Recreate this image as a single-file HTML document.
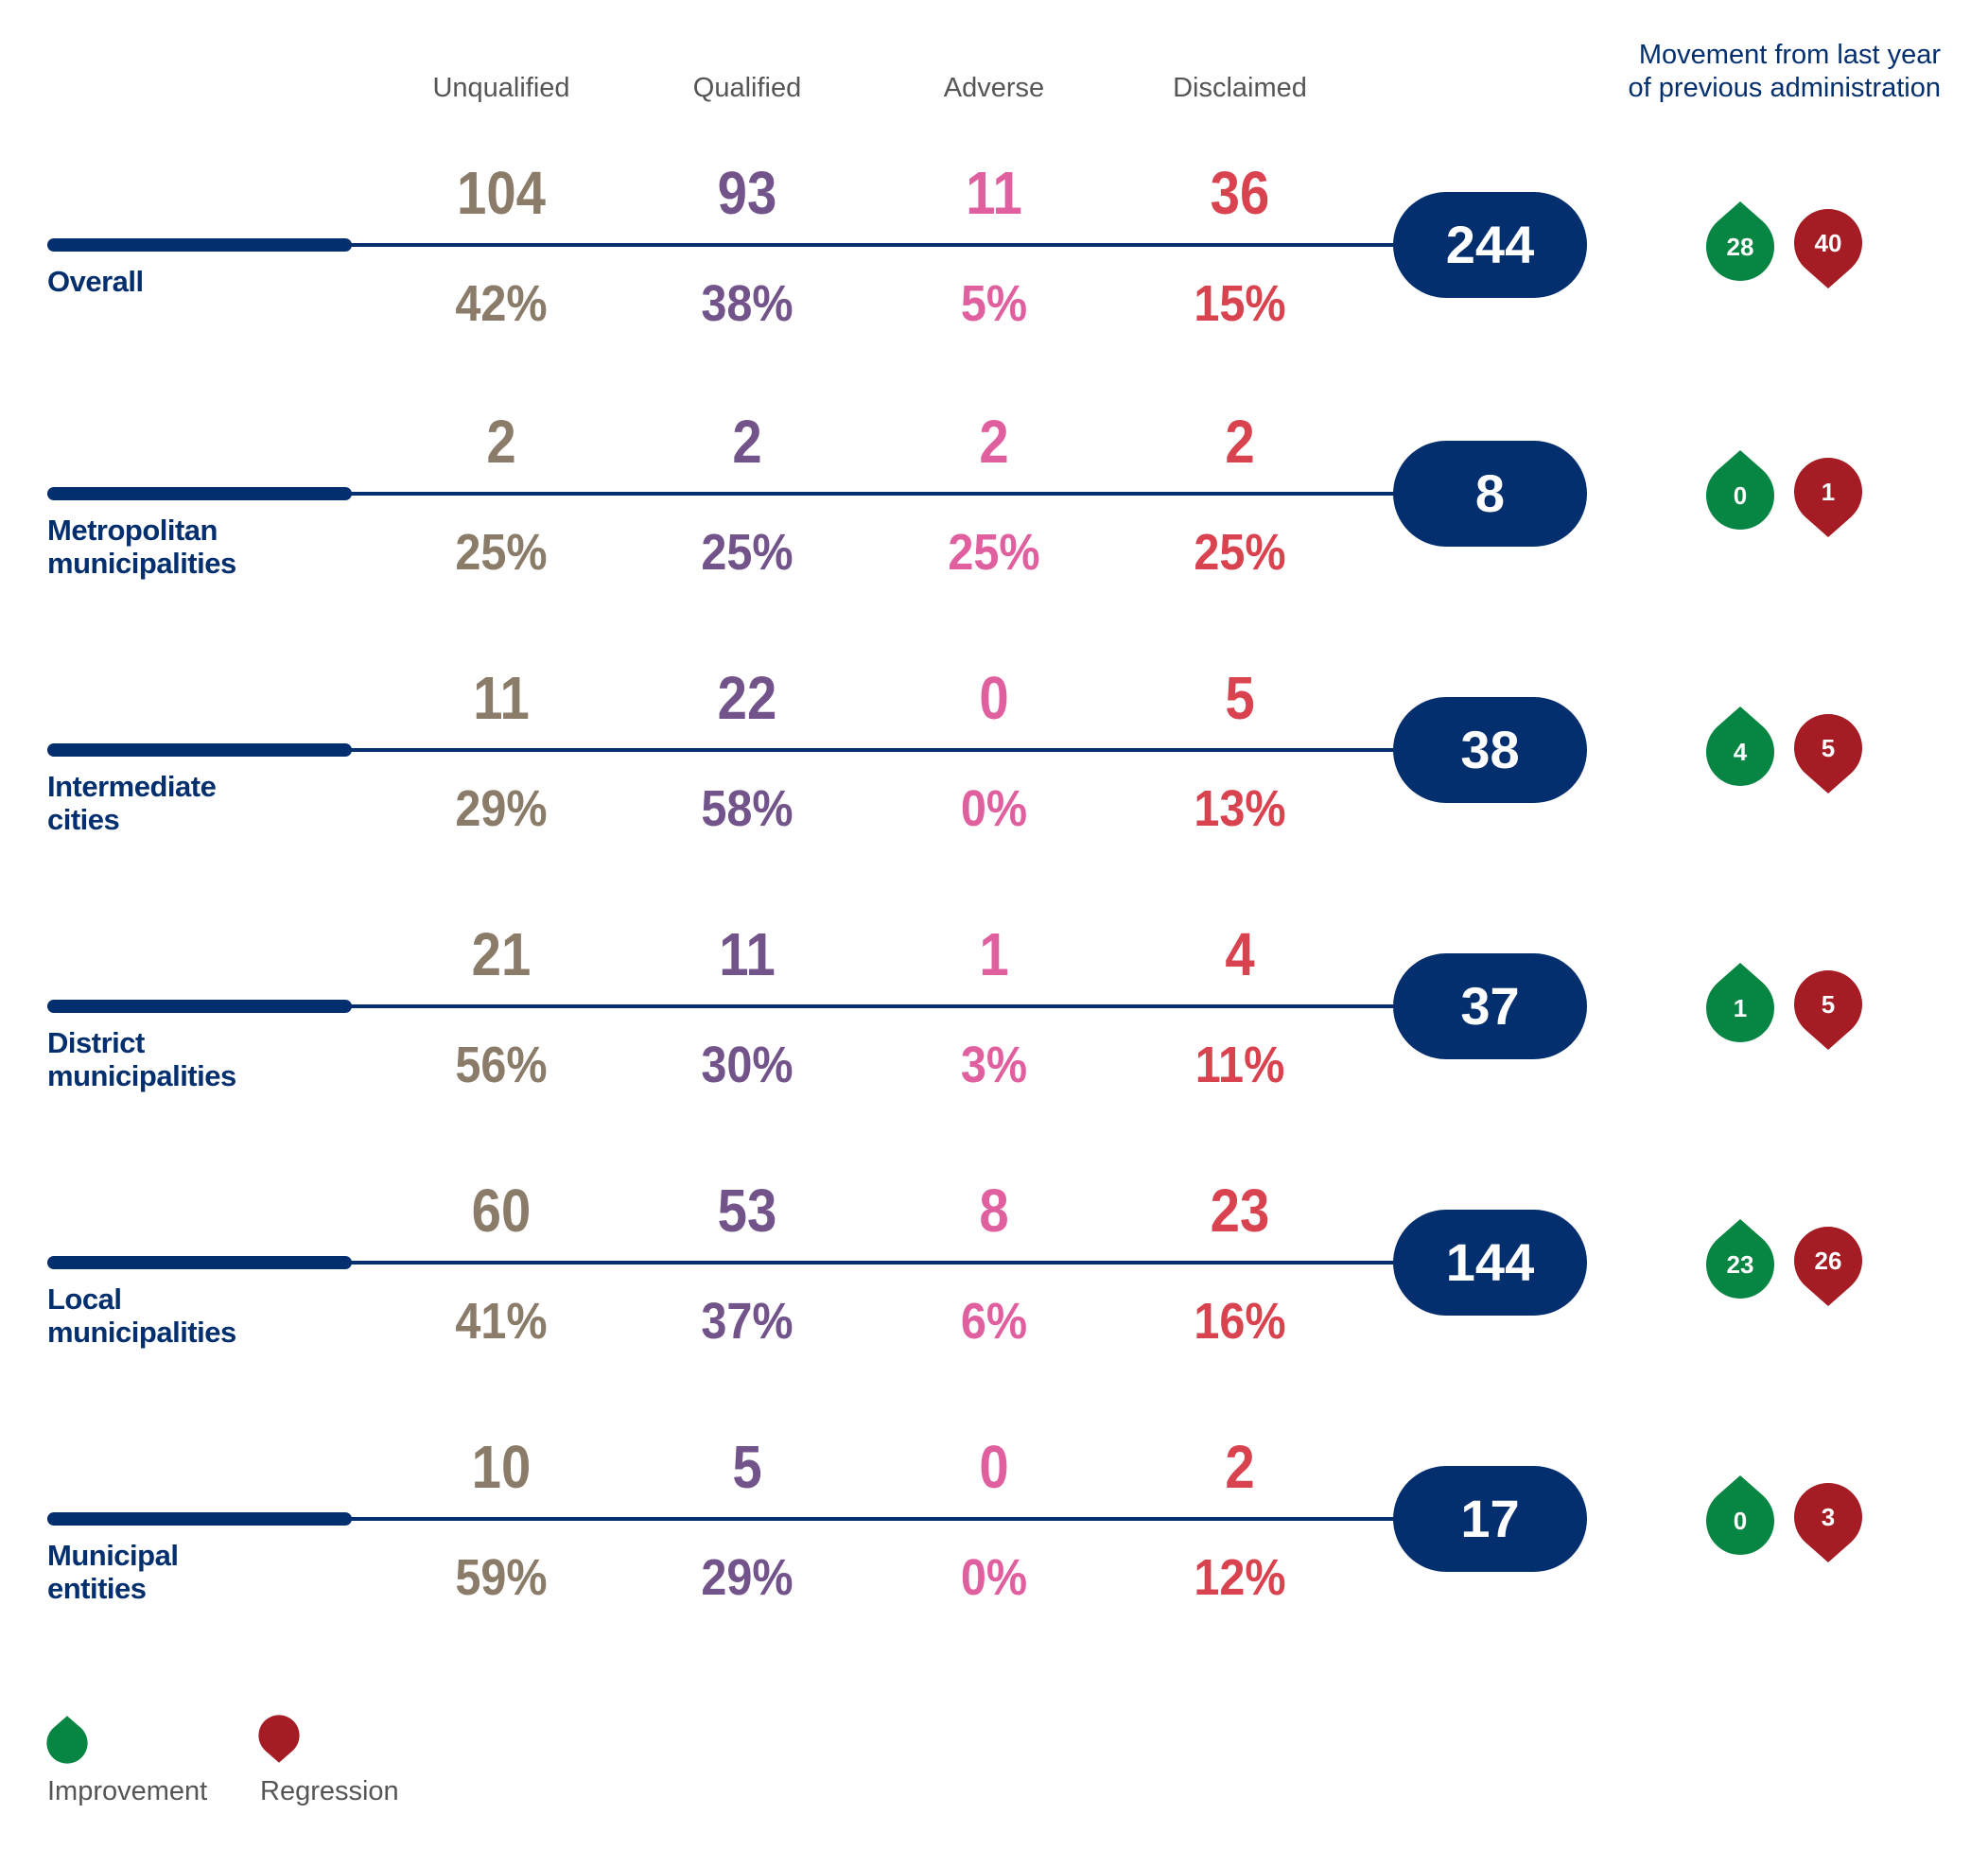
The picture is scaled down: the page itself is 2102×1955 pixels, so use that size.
<!DOCTYPE html>
<html><head><meta charset="utf-8"><style>
body{margin:0;width:2102px;height:1955px;background:#fff;position:relative;overflow:hidden;font-family:"Liberation Sans",sans-serif}
.a{position:absolute}
.h{width:300px;text-align:center;font-size:29px;color:#555;line-height:30px}
.n{width:240px;text-align:center;font-weight:bold;font-size:64px;line-height:64px;transform:scaleX(0.88)}
.p{width:240px;text-align:center;font-weight:bold;font-size:54px;line-height:54px;transform:scaleX(0.9)}
.lab{left:50px;color:#042f6e;font-weight:bold;font-size:31px;line-height:35px;letter-spacing:-0.5px}
.bar{left:50px;width:322px;height:14px;background:#042f6e;border-radius:7px}
.ln{left:368px;width:1108px;height:4px;background:#042f6e}
.pill{left:1473px;width:205px;height:112px;border-radius:56px;background:#042f6e;color:#fff;font-weight:bold;font-size:56px;line-height:112px;text-align:center}
.c1{color:#8b7b69}.c2{color:#72548a}.c3{color:#e0609f}.c4{color:#d9434f}
</style></head><body>
<div class="a h" style="left:380px;top:78px">Unqualified</div>
<div class="a h" style="left:640px;top:78px">Qualified</div>
<div class="a h" style="left:901px;top:78px">Adverse</div>
<div class="a h" style="left:1161px;top:78px">Disclaimed</div>
<div class="a" style="right:50px;top:41px;text-align:right;color:#042f6e;font-size:29px;line-height:35px">Movement from last year<br>of previous administration</div>

<svg class="a" style="left:0;top:0" width="2102" height="1955">
<defs>
<path id="g" d="M0,-48 L23.8,-27 A36,36 0 1 1 -23.8,-27 Z" fill="#078543"/>
<path id="r" d="M0,48 L23.8,27 A36,36 0 1 0 -23.8,27 Z" fill="#a51c24"/>
</defs>
<g font-family="Liberation Sans" font-weight="bold" font-size="26" fill="#fff" text-anchor="middle">
<use href="#g" x="1840" y="261"/><text x="1840" y="270">28</text>
<use href="#r" x="1933" y="257"/><text x="1933" y="266">40</text>
<use href="#g" x="1840" y="524"/><text x="1840" y="533">0</text>
<use href="#r" x="1933" y="520"/><text x="1933" y="529">1</text>
<use href="#g" x="1840" y="795"/><text x="1840" y="804">4</text>
<use href="#r" x="1933" y="791"/><text x="1933" y="800">5</text>
<use href="#g" x="1840" y="1066"/><text x="1840" y="1075">1</text>
<use href="#r" x="1933" y="1062"/><text x="1933" y="1071">5</text>
<use href="#g" x="1840" y="1337"/><text x="1840" y="1346">23</text>
<use href="#r" x="1933" y="1333"/><text x="1933" y="1342">26</text>
<use href="#g" x="1840" y="1608"/><text x="1840" y="1617">0</text>
<use href="#r" x="1933" y="1604"/><text x="1933" y="1613">3</text>
</g>
<g transform="translate(71,1843) scale(0.6)"><use href="#g"/></g>
<g transform="translate(295,1835) scale(0.6)"><use href="#r"/></g>
</svg>
<div class="a" style="left:50px;top:1878px;font-size:29px;color:#555">Improvement</div>
<div class="a" style="left:275px;top:1878px;font-size:29px;color:#555">Regression</div>

<div id="rows"></div>
<script>
var rows=[
[259,"Overall",["104","93","11","36"],["42%","38%","5%","15%"],"244"],
[522,"Metropolitan<br>municipalities",["2","2","2","2"],["25%","25%","25%","25%"],"8"],
[793,"Intermediate<br>cities",["11","22","0","5"],["29%","58%","0%","13%"],"38"],
[1064,"District<br>municipalities",["21","11","1","4"],["56%","30%","3%","11%"],"37"],
[1335,"Local<br>municipalities",["60","53","8","23"],["41%","37%","6%","16%"],"144"],
[1606,"Municipal<br>entities",["10","5","0","2"],["59%","29%","0%","12%"],"17"]];
var cx=[530,790,1051,1311],h="";
rows.forEach(function(r){var y=r[0];
h+='<div class="a ln" style="top:'+(y-2)+'px"></div><div class="a bar" style="top:'+(y-7)+'px"></div>';
h+='<div class="a lab" style="top:'+(y+21)+'px">'+r[1]+'</div>';
for(var i=0;i<4;i++){h+='<div class="a n c'+(i+1)+'" style="left:'+(cx[i]-120)+'px;top:'+(y-87)+'px">'+r[2][i]+'</div>';
h+='<div class="a p c'+(i+1)+'" style="left:'+(cx[i]-120)+'px;top:'+(y+35)+'px">'+r[3][i]+'</div>';}
h+='<div class="a pill" style="top:'+(y-56)+'px">'+r[4]+'</div>';});
document.getElementById("rows").innerHTML=h;
</script>
</body></html>
